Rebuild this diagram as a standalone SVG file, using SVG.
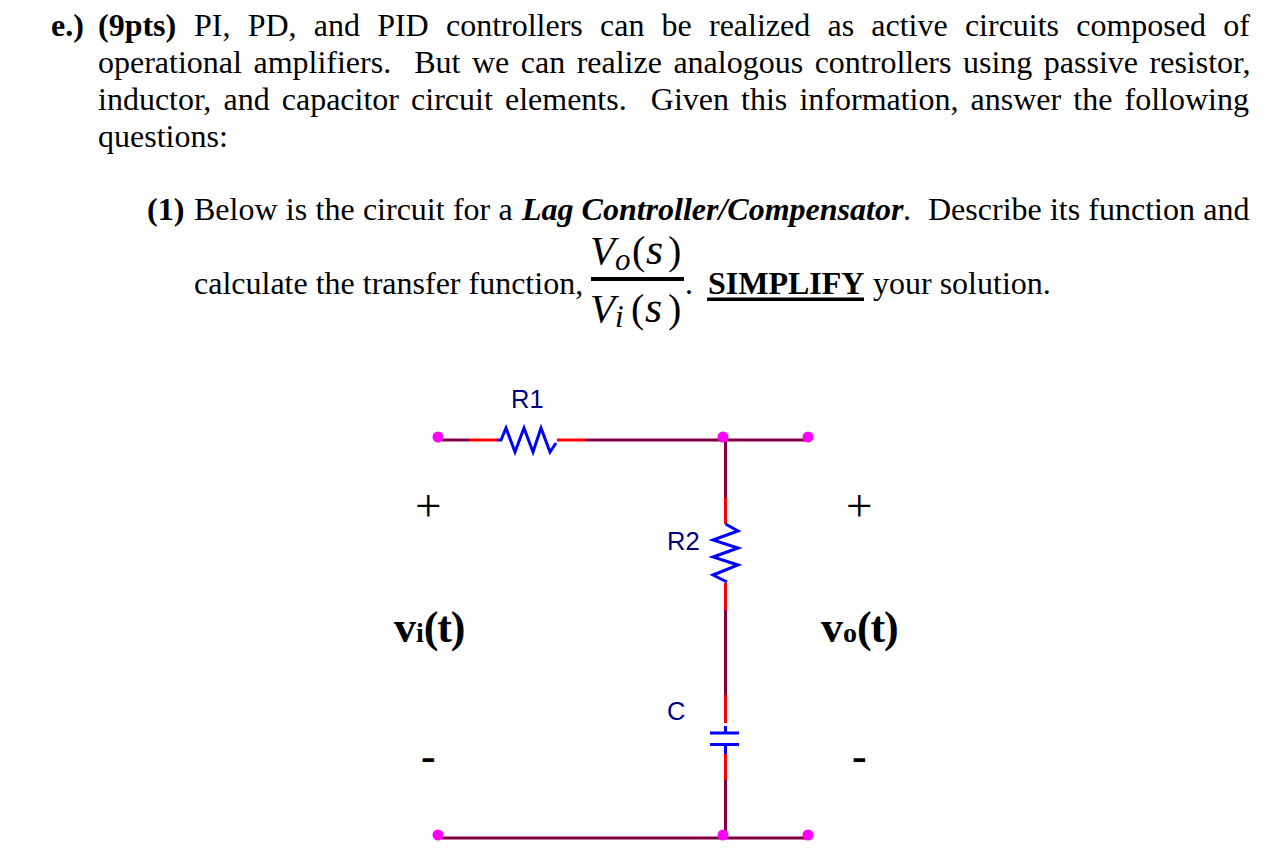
<svg xmlns="http://www.w3.org/2000/svg" width="1277" height="868" viewBox="0 0 1277 868">
<style>
text{font-family:"Liberation Serif","Times New Roman",serif;fill:#000}
.b{font-size:32px}
.bd{font-weight:bold}
.m{font-size:41px;font-style:italic}
.s{font-size:44px;font-style:italic}
.ms{font-size:31px;font-style:italic}
.mp{font-size:40px}
.lab{font-family:"Liberation Sans",Arial,sans-serif;font-size:25.5px;fill:#000080}
.w{fill:none;stroke:#800040;stroke-width:3}
.r{fill:none;stroke:#ff0000;stroke-width:3}
.c{fill:none;stroke:#0000ff;stroke-width:3}
.d{fill:#ff00ff}
.pl{font-size:47px}
.mi{font-size:44px;font-weight:bold}
.t{letter-spacing:-1.2px}
</style>
<rect width="1277" height="868" fill="#ffffff"/>
<g id="question">
<text class="b bd" x="51" y="36">e.)</text>
<text class="b bd" x="98" y="36">(9pts)</text>
<text class="b" x="194" y="36" word-spacing="9.2">PI, PD, and PID controllers can be realized as active circuits composed of</text>
<text class="b" x="98" y="73" word-spacing="3.5">operational amplifiers.<tspan dx="11.5"> But we can realize analogous controllers using passive resistor,</tspan></text>
<text class="b" x="98" y="110" word-spacing="4.1">inductor, and capacitor circuit elements.<tspan dx="12"> Given this information, answer the following</tspan></text>
<text class="b" x="98" y="147">questions:</text>
<text class="b bd" x="147" y="220">(1)</text>
<text class="b" x="194" y="220" word-spacing="0.3">Below is the circuit for a</text>
<text class="b bd" x="522" y="220" font-style="italic">Lag Controller/Compensator</text>
<text class="b" x="903" y="220">.</text>
<text class="b" x="928" y="220" word-spacing="0.2">Describe its function and</text>
<text class="b" x="194" y="294">calculate the transfer function,</text>
<text class="m" x="590" y="264">V</text>
<text class="ms" x="615" y="270">o</text>
<text class="mp" x="632" y="264">(</text>
<text class="s" x="646" y="264">s</text>
<text class="mp" x="668" y="264">)</text>
<rect x="591" y="277" width="93" height="4" fill="#000"/>
<text class="m" x="590" y="322">V</text>
<text class="ms" x="615" y="327">i</text>
<text class="mp" x="631" y="322">(</text>
<text class="s" x="645" y="322">s</text>
<text class="mp" x="668" y="322">)</text>
<text class="b" x="685" y="294">.</text>
<text class="b bd" x="708" y="294">SIMPLIFY</text>
<rect x="707" y="297.5" width="157" height="3.5" fill="#000"/>
<text class="b" x="873" y="294">your solution.</text>
</g>
<g id="connectors">
<path class="w" d="M442 440H469M585 440H808M725.5 440V498M725.5 610V695M725.5 780V838M442 838H808"/>
<path class="r" d="M469 440H497M557 440H585M725.5 498V524M725.5 583V610M725.5 695V723M725.5 754V780"/>
</g>
<g id="R1">
<path class="c" d="M497 440H501L506 428L515 452L524 428L533 452L541 428L550 452L556 443"/>
<text class="lab" x="511" y="408">R1</text>
</g>
<g id="R2">
<path class="c" d="M725.5 524L738 531L713 540L738 548L713 557L738 565L713 575L727 582"/>
<text class="lab" x="667" y="550">R2</text>
</g>
<g id="C">
<path class="c" d="M725.5 726V733M710 733H739M710 744.5H739M725.5 744.5V754"/>
<text class="lab" x="667" y="720">C</text>
</g>
<g id="terminals">
<circle class="d" cx="438" cy="437" r="5.5"/>
<circle class="d" cx="723" cy="437" r="5.5"/>
<circle class="d" cx="808" cy="437" r="5.5"/>
<circle class="d" cx="438" cy="835" r="5.5"/>
<circle class="d" cx="723" cy="835" r="5.5"/>
<circle class="d" cx="808" cy="835" r="5.5"/>
</g>
<g id="vi">
<text class="pl" x="415" y="521">+</text>
<text class="mi" x="394" y="642">v<tspan font-size="28">i</tspan><tspan class="t">(t)</tspan></text>
<text class="mi" x="421" y="771">-</text>
</g>
<g id="vo">
<text class="pl" x="846" y="521">+</text>
<text class="mi" x="821" y="642">v<tspan font-size="28">o</tspan><tspan class="t">(t)</tspan></text>
<text class="mi" x="852" y="771">-</text>
</g>
</svg>
